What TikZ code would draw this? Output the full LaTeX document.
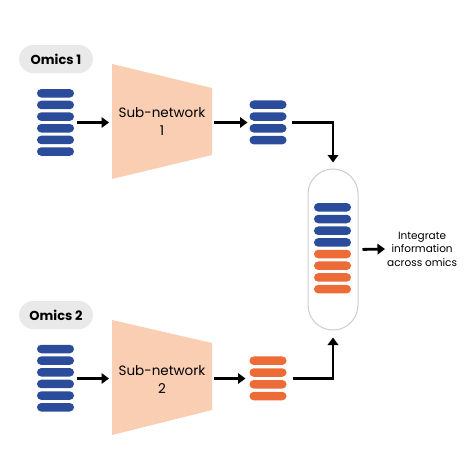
\documentclass[tikz,border=0pt]{standalone}
\usepackage{xcolor}
\usepackage{fontspec}
\setmainfont{Poppins}
\usetikzlibrary{shapes, arrows.meta, positioning}
\definecolor{omblue}{HTML}{2B4C9B}
\definecolor{omorange}{HTML}{EC6B36}
\definecolor{subpeach}{HTML}{F9CEB3}
\definecolor{pillgray}{HTML}{E9E9E9}
\tikzset{
  bar/.style={rounded corners=4.2pt,minimum width=37pt,minimum height=8.5pt,inner sep=0pt},
  stackbox/.style={minimum width=37pt,inner sep=0pt,outer sep=0pt},
  arr/.style={draw=black,line width=2.8pt,-{Triangle[length=7.5pt,width=10.5pt]}}
}

\begin{document}
\begin{tikzpicture}[x=1pt,y=-1pt]
        \useasboundingbox (0,0) rectangle (474,474);
        % omics labels
        \begin{scope}[every node/.style={fill=pillgray,rounded corners=14pt,minimum width=74pt,minimum height=28pt,inner sep=0pt,font=\bfseries\fontsize{13}{15}\selectfont}]
          \node (om1) at (56,59) {Omics 1};
          \node (om2) at (56,315) {Omics 2};
        \end{scope}
        % sub-networks
        \fill[subpeach] (112,64) -- (212,88) -- (212,155) -- (112,179) -- cycle;
        \fill[subpeach] (112,320) -- (212,343) -- (212,410) -- (112,435) -- cycle;
        \begin{scope}[every node/.style={align=center,font=\fontsize{13.5}{18}\selectfont}]
          \node (sub1) at (162,122) {Sub-network\\1};
          \node (sub2) at (162,379) {Sub-network\\2};
        \end{scope}
        % stacks of bars
        \node[stackbox,minimum height=66.5pt] (inA) at (55.5,122.5) {};
        \node[stackbox,minimum height=66.5pt] (inB) at (55.5,378.5) {};
        \node[stackbox,minimum height=44pt] (outA) at (268,122.5) {};
        \node[stackbox,minimum height=44pt] (outB) at (268,378.5) {};
        \coordinate (sub1in) at (109,122.5);
        \coordinate (sub1out) at (214,122.5);
        \coordinate (sub2in) at (109,378.5);
        \coordinate (sub2out) at (214,378.5);
        \foreach \i in {0,...,5} {
          \node[bar,fill=omblue] (inA\i) at (55.5,93.3+11.65*\i) {};
          \node[bar,fill=omblue] (inB\i) at (55.5,349+11.65*\i) {};
        }
        \foreach \i in {0,...,3} {
          \node[bar,fill=omblue] (outA\i) at (268,104.7+11.8*\i) {};
          \node[bar,fill=omorange] (outB\i) at (268,360.7+11.8*\i) {};
        }
        % merged capsule
        \node[draw=black!20,line width=1pt,fill=white,rounded corners=25pt,minimum width=50pt,minimum height=161pt] (cap) at (333,249.5) {};
        \foreach \i in {0,...,3} {
          \node[bar,fill=omblue] (capA\i) at (332.5,207.3+11.71*\i) {};
          \node[bar,fill=omorange] (capB\i) at (332.5,254+11.71*\i) {};
        }
        \node[align=center,font=\fontsize{10.5}{13.5}\selectfont,anchor=west,inner sep=1pt] (integ) at (386,249) {Integrate\\information\\across omics};
        % connectors
        \draw[arr,shorten <=3pt] (inA) -- (sub1in);
        \draw[arr,shorten >=2pt] (sub1out) -- (outA);
        \draw[arr,shorten <=3pt] (inB) -- (sub2in);
        \draw[arr,shorten >=4pt] (sub2out) -- (outB);
        \draw[arr,shorten <=5pt,shorten >=6pt] (outA.east) -| (cap.north);
        \draw[arr,shorten <=6pt,shorten >=7pt] (outB.east) -| (cap.south);
        \draw[arr,shorten <=4pt,shorten >=1pt] (cap.east) -- (integ.west);
      \end{tikzpicture}
\end{document}
